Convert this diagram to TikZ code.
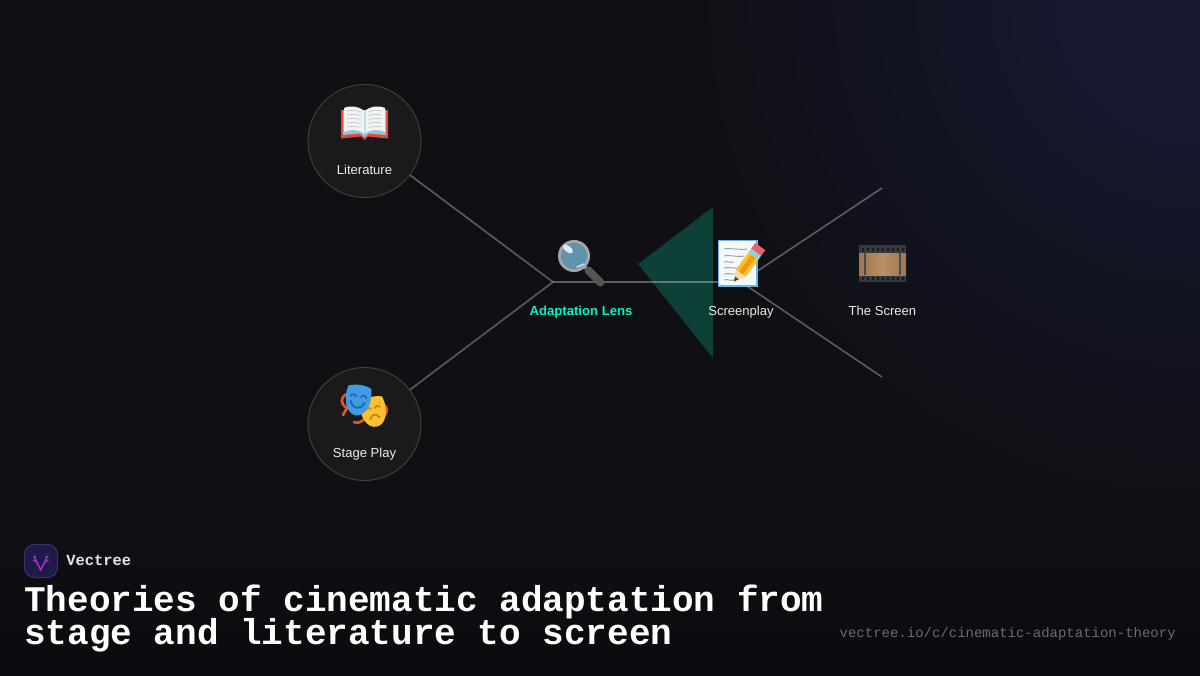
\documentclass[tikz,border=0pt]{standalone}
\usepackage{fontspec}
\setmainfont{Liberation Sans}
\newfontfamily\monofam{Liberation Mono}
\definecolor{bgbase}{HTML}{0F0F14}
\definecolor{bgglow}{HTML}{16182E}
\definecolor{bgdeep}{HTML}{0B0B0F}
\definecolor{tealtri}{HTML}{0D4038}
\definecolor{circfill}{HTML}{1A1A1A}
\definecolor{circline}{HTML}{3E3E40}
\definecolor{accent}{HTML}{00F5C0}
\definecolor{urlgray}{HTML}{6A6A70}
\definecolor{titlew}{HTML}{FFFFFF}
\definecolor{brandw}{HTML}{E4E4E7}
\definecolor{ink}{HTML}{C6C9CC}
\definecolor{logofill}{HTML}{1F1A4A}
\definecolor{logoline}{HTML}{39316F}
\definecolor{logov}{HTML}{A42FCB}
\definecolor{bookred}{HTML}{E8453C}
\definecolor{bookblue}{HTML}{8EC6D8}
\definecolor{bookpage}{HTML}{F2F3F4}
\definecolor{maskblue}{HTML}{3F9BE3}
\definecolor{maskblued}{HTML}{1C66AD}
\definecolor{maskyel}{HTML}{FBC02D}
\definecolor{maskyeld}{HTML}{B88A10}
\definecolor{maskrib}{HTML}{E5532B}
\definecolor{lensfill}{HTML}{5F93AC}
\definecolor{lensring}{HTML}{A5A5A5}
\definecolor{lenshandle}{HTML}{555555}
\definecolor{pageedge}{HTML}{6DB3E8}
\definecolor{pagefill}{HTML}{F5F8FA}
\definecolor{penyel}{HTML}{FBC02D}
\definecolor{penorg}{HTML}{F29A0E}
\definecolor{penwood}{HTML}{FBD9A8}
\definecolor{penfer}{HTML}{8FD0E0}
\definecolor{penrub}{HTML}{EF5F6B}
\definecolor{filmdark}{HTML}{36393D}
\definecolor{filmhole}{HTML}{17191C}
\definecolor{filmtana}{HTML}{9E7750}
\definecolor{filmtanb}{HTML}{B98F63}
\definecolor{filmbar}{HTML}{4A4A4C}
\pgfdeclareradialshading{glowbg}{\pgfpoint{0bp}{0bp}}{
  color(0bp)=(bgglow); color(6bp)=(bgglow); color(25bp)=(bgbase); color(50bp)=(bgbase)}
\tikzset{
  wire/.style={draw=white,draw opacity=.32,line width=1.2pt},
  hubcircle/.style={circle,draw=circline,fill=circfill,line width=.75pt,minimum size=84.75pt,inner sep=0pt},
  lab/.style={text=white!92!black,font=\fontsize{9.8}{12}\selectfont,inner sep=0pt,anchor=base},
  labhot/.style={text=accent,font=\bfseries\fontsize{9.85}{12}\selectfont,inner sep=0pt,anchor=base},
  scrib/.style={draw=ink,line width=.5pt},
  ribbon/.style={draw=maskrib,line width=2pt,line cap=round,line join=round}
}
\begin{document}
\begin{tikzpicture}[x=.75pt,y=-.75pt]
\useasboundingbox (0,0) rectangle (1200,675);
\begin{scope}
\clip (0,0) rectangle (1200,675);
\fill[bgbase] (0,0) rectangle (1200,675);
\shade[shading=glowbg] (1200,0) ellipse [x radius=520,y radius=520];
\shade[top color=bgbase,bottom color=bgdeep,draw=none] (0,520) rectangle (1200,675);
\end{scope}

% anchors
\node[hubcircle] (lit) at (364.5,141) {};
\node[hubcircle] (stage) at (364.5,424) {};
\coordinate (join) at (553,282);
\coordinate (hub) at (741,282);
\coordinate (upend) at (882,188);
\coordinate (downend) at (882,377);

% prism
\coordinate (triA) at (638,264);
\coordinate (triB) at (713,207);
\coordinate (triC) at (713,358);
\fill[tealtri] (triA) -- (triB) -- (triC) -- cycle;

% connectors
\draw[wire] (lit) -- (join);
\draw[wire] (stage) -- (join);
\draw[wire,line width=1.5pt] (join) -- (hub);
\draw[wire] (hub) -- (upend);
\draw[wire] (hub) -- (downend);

% book
\fill[bookred] (341,110) -- (341,138.5) -- (361,136.5) -- (364.5,140) -- (368,136.5) -- (388,138.5) -- (388,110) -- cycle;
\fill[bookblue] (343,110) -- (343,135) -- (360,133.5) -- (364.5,137.5) -- (369,133.5) -- (386,135) -- (386,110) -- cycle;
\fill[bookpage] (344,108) .. controls (351,105) and (358,106) .. (364.5,111) -- (364.5,134) .. controls (358,129) and (351,129) .. (344,132) -- cycle;
\fill[bookpage] (385,108) .. controls (378,105) and (371,106) .. (364.5,111) -- (364.5,134) .. controls (371,129) and (378,129) .. (385,132) -- cycle;
\fill[bookblue!60!white] (363.5,111) rectangle (365.5,134);
\foreach \yy in {111,115,119,123,127}{
  \draw[scrib] (347,\yy) .. controls (352,\yy-1) and (357,\yy-1) .. (361,\yy+1);
  \draw[scrib] (382,\yy) .. controls (377,\yy-1) and (372,\yy-1) .. (368,\yy+1);
}

% masks
\draw[ribbon] (347,394) .. controls (340,397) and (340,404) .. (347,408) -- (343,415);
\draw[ribbon] (354,422) .. controls (358,424) and (362,422) .. (366,417);
\draw[ribbon] (381,404) .. controls (388,406) and (389,411) .. (383,417);
\begin{scope}[shift={(373.5,411.5)},rotate=12]
  \fill[maskyel] (-11.5,-13) .. controls (-4,-15.5) and (4,-15.5) .. (11.5,-13) .. controls (15.5,2) and (9.5,15.5) .. (0,15.5) .. controls (-9.5,15.5) and (-15.5,2) .. (-11.5,-13) -- cycle;
  \draw[maskyeld,line width=1.2pt,line cap=round] (-7,-3) .. controls (-5,-6) and (-3,-5) .. (-2,-3);
  \draw[maskyeld,line width=1.2pt,line cap=round] (2,-3) .. controls (3,-5) and (5,-6) .. (7,-3);
  \draw[maskyeld,line width=1.3pt,line cap=round] (-5,7) .. controls (-2,2) and (2,2) .. (5,7);
\end{scope}
\begin{scope}[shift={(358,400)},rotate=-8]
  \fill[maskblue] (-11.5,-13) .. controls (-4,-16) and (4,-16) .. (11.5,-13) .. controls (15.5,2) and (9,15.5) .. (0,15.5) .. controls (-9,15.5) and (-15.5,2) .. (-11.5,-13) -- cycle;
  \draw[maskblued,line width=1.2pt,line cap=round] (-8,-3) .. controls (-6,-6) and (-4,-6) .. (-2.5,-3);
  \draw[maskblued,line width=1.2pt,line cap=round] (2.5,-3) .. controls (4,-6) and (6,-6) .. (8,-3);
  \draw[maskblued,line width=1.4pt,line cap=round] (-7,2) .. controls (-4,10) and (4,10) .. (7,2);
\end{scope}

% magnifier
\draw[line width=2.4pt,lensring] (584,266) -- (588,270);
\draw[line width=6pt,lenshandle,line cap=round] (588.5,270.5) -- (600.5,282.5);
\fill[lensfill,draw=lensring,line width=2.1pt] (574,256) circle (14.6);
\fill[white!80!lensfill,rotate around={-38:(568,249)}] (568,249) ellipse [x radius=6,y radius=3];
\draw[white!65!lensfill,line width=1.2pt,line cap=round] (577,267) -- (584,264);

% screenplay page and pencil
\fill[pagefill,draw=pageedge,line width=1.2pt] (718.5,240.5) rectangle (757,286);
\foreach \yy/\xa/\xb in {249/724/747,256/724/744,262/724/734,262/745/752,268/724/745,274/724/741,280/724/734}{
  \draw[scrib,draw=gray!90!black] (\xa,\yy) .. controls (\xa+5,\yy-1) and (\xb-5,\yy+1) .. (\xb,\yy);
}
\fill[penwood] (734,281.5) -- (736,268.5) -- (746.5,276.6) -- cycle;
\fill[black!75!white] (734,281.5) -- (735,276.5) -- (738.6,279.2) -- cycle;
\draw[line width=9.2pt,penyel] (741,273) -- (753.4,256);
\draw[line width=3.6pt,penorg] (741,273) -- (753.4,256);
\draw[line width=9.2pt,penfer] (753.4,256) -- (756.3,252);
\draw[line width=9.2pt,penrub] (756.3,252) -- (760.3,246.5);

% film
\fill[filmdark] (859,245) rectangle (906,282);
\shade[left color=filmtana,right color=filmtana,middle color=filmtanb] (859,253) rectangle (906,275);
\draw[line width=1.4pt,filmbar] (864.7,253) -- (864.7,275);
\draw[line width=1.4pt,filmbar] (900.2,253) -- (900.2,275);
\foreach \xx in {861.5,866.5,...,904}{
  \fill[filmhole] (\xx,247.5) rectangle ++(2.6,3);
  \fill[filmhole] (\xx,277) rectangle ++(2.6,3);
}

% labels
\node[lab] (litlab) at (364.5,174) {Literature};
\node[lab] (stagelab) at (364.5,457) {Stage Play};
\node[labhot] (lenslab) at (581,315) {Adaptation Lens};
\node[lab] (scrlab) at (741,315) {Screenplay};
\node[lab] (filmlab) at (882.5,315) {The Screen};

% brand
\fill[logofill,draw=logoline,line width=.8pt,rounded corners=7.5pt] (24.5,544.5) rectangle (57.5,577.5);
\draw[logov,line width=1.2pt,line join=round] (35,558.5) -- (40.7,570) -- (46.5,558.5);
\draw[logov,line width=.8pt] (33,560) -- (36.5,562);
\draw[logov,line width=.8pt] (48.5,560) -- (45,562);
\fill[logov] (34.8,557) circle (1.6);
\fill[logov] (46.8,557) circle (1.6);

\node[inner sep=0pt,anchor=base west,text=brandw,font=\monofam\bfseries\fontsize{11.6}{14}\selectfont] (brand) at (66,565.5) {Vectree};
\node[inner sep=0pt,anchor=north west,align=left,text=titlew,font=\monofam\bfseries\fontsize{27}{23.25}\selectfont] (title) at (24,585) {Theories of cinematic adaptation from\\[-2pt]stage and literature to screen};
\node[inner sep=0pt,anchor=base east,text=urlgray,font=\monofam\fontsize{10.5}{12}\selectfont] (url) at (1176,637) {vectree.io/c/cinematic-adaptation-theory};
\end{tikzpicture}
\end{document}
